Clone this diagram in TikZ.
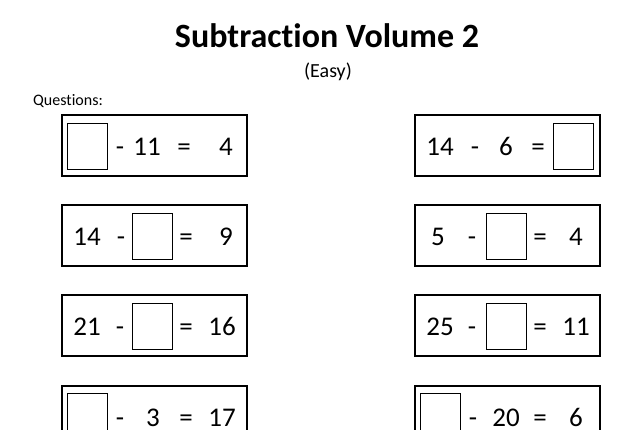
\documentclass[tikz,border=0pt]{standalone}
\usepackage{fontspec}
\setmainfont{Carlito}[Ligatures={NoCommon,NoRare}]
\begin{document}
\begin{tikzpicture}[x=1pt,y=-1pt,
  qbox/.style={draw,line width=2pt,minimum width=185pt,minimum height=61pt,inner sep=0pt},
  ansbox/.style={draw,line width=0.8pt,minimum width=40pt,minimum height=46pt,inner sep=0pt},
  t/.style={font=\fontsize{27}{27}\selectfont,inner sep=0pt,anchor=base,yshift=-10pt}]
\clip (0,0) rectangle (624,430);
\fill[white] (0,0) rectangle (624,430);
\node[font=\fontsize{34}{34}\selectfont\bfseries] (title) at (327,36) {Subtraction Volume 2};
\node[font=\fontsize{20}{20}\selectfont] (easy) at (328,72) {(Easy)};
\node[font=\fontsize{16}{16}\selectfont,anchor=west,inner sep=0pt] (q) at (33,101) {Questions:};
% row 1
\node[qbox] (b1) at (154.5,146) {};
\node[ansbox] (a1) at (87,146) {};
\node[t] (l1a) at (120,146) {-};
\node[t] (l1b) at (147,146) {11};
\node[t] (l1c) at (184,146) {=};
\node[t] (l1d) at (226,146) {4};
\node[qbox] (c1) at (507.5,146) {};
\node[t] (r1a) at (440,146) {14};
\node[t] (r1b) at (475,146) {-};
\node[t] (r1c) at (506,146) {6};
\node[t] (r1d) at (538,146) {=};
\node[ansbox] (s1) at (573,146) {};
% row 2
\node[qbox] (b2) at (154.5,236) {};
\node[t] (l2a) at (87,236) {14};
\node[t] (l2b) at (121,236) {-};
\node[ansbox] (a2) at (152,236) {};
\node[t] (l2c) at (186,236) {=};
\node[t] (l2d) at (226,236) {9};
\node[qbox] (c2) at (507.5,236) {};
\node[t] (r2a) at (438,236) {5};
\node[t] (r2b) at (472,236) {-};
\node[ansbox] (s2) at (506,236) {};
\node[t] (r2c) at (540,236) {=};
\node[t] (r2d) at (576,236) {4};
% row 3
\node[qbox] (b3) at (154.5,326) {};
\node[t] (l3a) at (87,326) {21};
\node[t] (l3b) at (120,326) {-};
\node[ansbox] (a3) at (152,326) {};
\node[t] (l3c) at (186,326) {=};
\node[t] (l3d) at (222,326) {16};
\node[qbox] (c3) at (507.5,326) {};
\node[t] (r3a) at (440,326) {25};
\node[t] (r3b) at (472,326) {-};
\node[ansbox] (s3) at (506,326) {};
\node[t] (r3c) at (540,326) {=};
\node[t] (r3d) at (576,326) {11};
% row 4
\node[qbox] (b4) at (154.5,416) {};
\node[ansbox] (a4) at (87,416) {};
\node[t] (l4a) at (120,416) {-};
\node[t] (l4b) at (153,416) {3};
\node[t] (l4c) at (186,416) {=};
\node[t] (l4d) at (222,416) {17};
\node[qbox] (c4) at (507.5,416) {};
\node[ansbox] (s4) at (440,416) {};
\node[t] (r4a) at (473,416) {-};
\node[t] (r4b) at (506,416) {20};
\node[t] (r4c) at (540,416) {=};
\node[t] (r4d) at (576,416) {6};
\end{tikzpicture}
\end{document}
